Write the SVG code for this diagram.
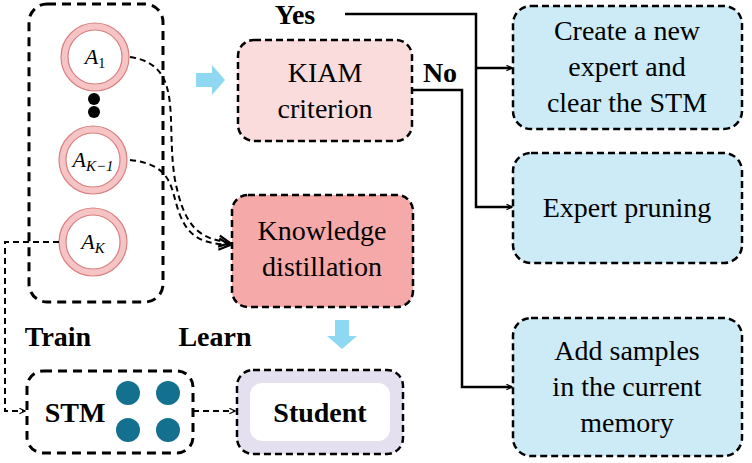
<svg xmlns="http://www.w3.org/2000/svg" width="752" height="463" viewBox="0 0 752 463">
<defs>
<style>
.dash{fill:none;stroke:#000;stroke-width:3;stroke-dasharray:9 6}
.box{stroke:#000;stroke-width:2.5;stroke-dasharray:7 4}
.t{font-family:'Liberation Serif','Times New Roman','DejaVu Serif',serif;font-size:28px;text-anchor:middle;fill:#000}
.b{font-weight:bold}
.ln{fill:none;stroke:#000;stroke-width:2.5}
.dl{fill:none;stroke:#000;stroke-width:2;stroke-dasharray:6 4}
.ring{fill:#f6c4c4;stroke:#d98080;stroke-width:1.2}
.inner{fill:#fff;stroke:#d98080;stroke-width:1.2}
.ba{fill:#8fd8f2}
.dot{fill:#13718f}
.m{font-family:'Liberation Serif','Times New Roman','DejaVu Serif',serif;font-style:italic;font-size:22px;text-anchor:middle}
</style>
<marker id="ar" viewBox="0 0 10 10" refX="9" refY="5" markerWidth="7" markerHeight="7" orient="auto" markerUnits="userSpaceOnUse"><path d="M1,1 L9,5 L1,9" fill="none" stroke="#000" stroke-width="1.6"/></marker>
<marker id="ar2" viewBox="0 0 10 10" refX="9" refY="5" markerWidth="14" markerHeight="14" orient="auto" markerUnits="userSpaceOnUse"><path d="M1,1 L9,5 L1,9" fill="none" stroke="#000" stroke-width="1.6"/></marker>
</defs>
<g id="experts">
<rect x="29" y="4" width="134" height="298" rx="18" class="dash"/>
<g id="a1"><circle cx="95" cy="57" r="34" class="ring"/><circle cx="95" cy="57" r="27" class="inner"/><text x="95" y="64" class="m">A<tspan font-size="14" font-style="normal" dy="4">1</tspan></text></g>
<circle cx="94" cy="99" r="6"/><circle cx="94" cy="112" r="6"/>
<g id="ak1"><circle cx="93" cy="160" r="34" class="ring"/><circle cx="93" cy="160" r="27" class="inner"/><text x="93" y="167" class="m">A<tspan font-size="15" dy="4">K−1</tspan></text></g>
<g id="ak"><circle cx="93" cy="242" r="34" class="ring"/><circle cx="93" cy="242" r="27" class="inner"/><text x="93" y="249" class="m">A<tspan font-size="15" dy="4">K</tspan></text></g>
</g>
<g id="kiam"><rect x="238" y="40" width="174" height="101" rx="16" fill="#fbdcdc" class="box"/><text x="325" y="82" class="t">KIAM</text><text x="325" y="118" class="t">criterion</text></g>
<g id="kd"><rect x="232" y="195" width="181" height="112" rx="16" fill="#f5a9a9" class="box"/><text x="322" y="240" class="t">Knowledge</text><text x="322" y="276" class="t">distillation</text></g>
<g id="student"><rect x="237" y="370" width="166" height="84" rx="16" fill="#e4e0ef" class="box"/><rect x="250" y="383" width="140" height="58" rx="12" fill="#fff"/><text x="320" y="422" class="t b">Student</text></g>
<g id="stm"><rect x="27" y="371" width="166" height="82" rx="16" class="dash"/><text x="75" y="422" class="t b">STM</text><circle cx="128" cy="393" r="12" class="dot"/><circle cx="168" cy="393" r="12" class="dot"/><circle cx="128" cy="430" r="12" class="dot"/><circle cx="168" cy="430" r="12" class="dot"/></g>
<g id="new"><rect x="513" y="6" width="229" height="123" rx="18" fill="#cdebf6" class="box"/><text x="627" y="40" class="t">Create a new</text><text x="627" y="76" class="t">expert and</text><text x="627" y="112" class="t">clear the STM</text></g>
<g id="prune"><rect x="513" y="153" width="229" height="110" rx="18" fill="#cdebf6" class="box"/><text x="627" y="217" class="t">Expert pruning</text></g>
<g id="add"><rect x="513" y="318" width="229" height="138" rx="18" fill="#cdebf6" class="box"/><text x="627" y="360" class="t">Add samples</text><text x="627" y="396" class="t">in the current</text><text x="627" y="432" class="t">memory</text></g>
<g id="labels">
<text x="295" y="24" class="t b" font-size="24">Yes</text>
<text x="440" y="82" class="t b" font-size="24">No</text>
<text x="58" y="346" class="t b">Train</text>
<text x="215" y="346" class="t b">Learn</text>
</g>
<g id="connectors">
<path d="M196,73 h16 v-8 l13,15 l-13,15 v-8 h-16z" class="ba"/>
<path d="M335,320 v16 h-8 l15,13 l15,-13 h-8 v-16z" class="ba"/>
<path d="M130,57 C185,65 165,120 175,180 C185,230 200,238 230,243" class="dl" marker-end="url(#ar2)"/>
<path d="M130,160 C175,165 170,190 180,215 C190,240 205,243 230,245" class="dl" marker-end="url(#ar2)"/>
<path d="M59,242 H5 V411 H25" class="dl" marker-end="url(#ar)"/>
<path d="M193,411 H235" class="dl" marker-end="url(#ar)"/>
<path d="M345,14 H476 V207 H512" class="ln" marker-end="url(#ar)"/>
<path d="M476,68 H512" class="ln" marker-end="url(#ar)"/>
<path d="M412,90 H462 V387 H512" class="ln" marker-end="url(#ar)"/>
</g>
</svg>
